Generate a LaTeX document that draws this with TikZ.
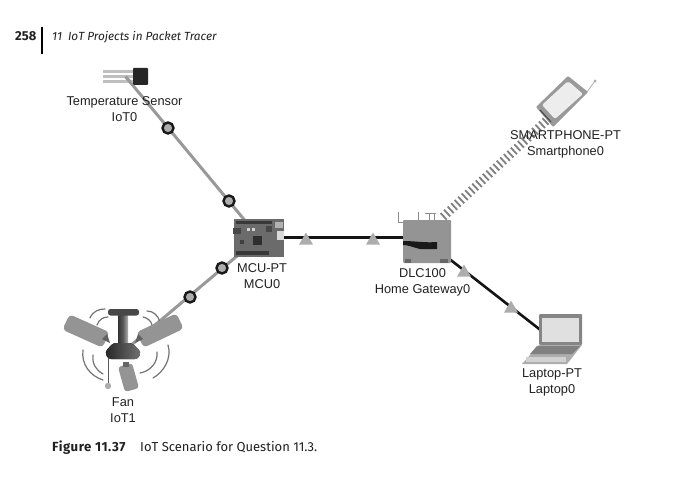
\documentclass[tikz,border=0pt]{standalone}
\usepackage{fontspec}
\setmainfont{Liberation Sans}
\newfontfamily\bookfont{Fira Sans}
\usetikzlibrary{shapes.geometric}
\definecolor{linkgray}{gray}{0.6}
\definecolor{tri}{gray}{0.68}
\definecolor{txt}{gray}{0.13}
\tikzset{
  x=1pt,y=-1pt,
  device/.style={minimum width=#1,inner sep=0pt,outer sep=0pt},
  lbl/.style={align=center,text=txt,inner sep=0pt,font=\fontsize{12.8}{15.6}\selectfont},
  iotlink/.style={draw=linkgray,line width=3pt},
  cable/.style={draw=black!92,line width=2.6pt},
  wifi/.style={draw=black!50,line width=9pt,dash pattern=on 1.8pt off 3pt},
  bead/.style={circle,draw=black!90,fill=black!32,line width=2.4pt,minimum size=11pt,inner sep=0pt},
  flag/.style={regular polygon,regular polygon sides=3,fill=tri,minimum size=16pt,inner sep=0pt},
  wave/.style={draw=black!55,line width=1.2pt,line cap=round},
  blade/.style={fill=black!42,rounded corners=4pt},
}
\begin{document}
\begin{tikzpicture}
\useasboundingbox (0,0) rectangle (700,486);
\fill[white] (0,0) rectangle (700,486);
% device places
\node[device=45pt,minimum height=17pt] (sensor) at (125.5,76.5) {};
\node[device=50pt,minimum height=38pt] (mcu) at (259,237.5) {};
\node[device=120pt,minimum height=84pt] (fan) at (123,352) {};
\node[device=48pt,minimum height=43pt] (gateway) at (427,241.5) {};
\node[device=60pt,minimum height=50pt] (laptop) at (552,339) {};
\node[device=50pt,minimum height=50pt] (phone) at (566,101) {};
\coordinate (wifiA) at (443,217);
\coordinate (wifiB) at (547,120);
% connectors
\draw[wifi] (wifiA) -- (wifiB);
\draw[iotlink] (sensor.center) -- (mcu.center);
\draw[iotlink] (mcu.center) -- (fan.center);
\draw[cable] (mcu.center) -- (mcu.center -| gateway.center);
\draw[cable] (gateway.center) -- (laptop.center);
% temperature sensor
\foreach \yy in {71.5,76.5,81.5}
  \draw[black!25,line width=2.2pt] (103,\yy) -- (134,\yy);
\draw[linkgray,line width=3pt] (125.5,76.5) -- (131,83);
\fill[black!85,rounded corners=1pt] (133,68) rectangle (148,85);
% MCU board
\fill[black!58] (234,219) rectangle (284,257);
\fill[black!78] (236,221) rectangle (272,224);
\fill[black!78] (236,251) rectangle (269,255);
\fill[black!72] (233,228) rectangle (241,234);
\fill[black!18] (247,228) rectangle (250,231);
\fill[black!18] (252,228) rectangle (255,231);
\fill[black!82] (253,236) rectangle (262,245);
\fill[black!72] (266,226) rectangle (272,232);
\fill[black!75] (240,240) rectangle (244,244);
\fill[black!30] (275,222) rectangle (283,228);
\fill[black!15] (277,231) rectangle (284,240);
% gateway
\draw[black!45,line width=1pt] (398,222) -- (398,212);
\draw[black!45,line width=1pt] (398,222) -- (403,222);
\draw[black!45,line width=1pt] (418,220) -- (418,212);
\draw[black!45,line width=1pt] (429,220) -- (429,213) (425,213) -- (436,213);
\draw[black!45,line width=1pt] (434,220) -- (434,214);
\fill[black!42,rounded corners=1pt] (403,220) rectangle (451,263);
\fill[black!90] (403,241) .. controls (415,241) and (425,243) .. (437,242) -- (437,249) -- (420,249) .. controls (412,247) and (408,245) .. (403,245) -- cycle;
\fill[black!60] (405,259) rectangle (411,263);
\fill[black!60] (440,259) rectangle (448,263);
% phone
\draw[black!30,line width=0.8pt] (587,92) -- (595,81);
\fill[black!35] (595,81) circle (1.5pt);
\fill[black!40,rounded corners=1pt] (568,76) -- (588,92) -- (553,127) -- (536,107) -- cycle;
\fill[black!7,rounded corners=2pt] (568,81) -- (583,94) -- (555,119) -- (542,105) -- cycle;
\draw[black!70,line width=1.2pt] (540,110) -- (551,122);
% laptop
\fill[black!48,rounded corners=1pt] (539,314) rectangle (582,345);
\fill[black!12] (542,318) rectangle (579,342);
\fill[black!32] (539,345) -- (582,345) -- (567,364) -- (522,364) -- cycle;
\fill[black!50] (537,346) -- (580,346) -- (572,354) -- (530,354) -- cycle;
\fill[black!18] (526,357) rectangle (566,362);
% fan
\foreach \aa/\bb/\cc/\dd/\ee/\ff/\gg/\hh in {
  90/318/93/311/99/309/105/309,
  97/325/99/319/104/317/108/317,
  147/311/153/311/158/315/160/322,
  143/317/148/318/151/321/152/325,
  83/350/81/364/90/376/103/380,
  93/355/92/364/96/370/103/374,
  168/345/172/358/164/372/153/378,
  157/352/158/362/151/371/140/373}
  \draw[wave] (\aa,\bb) .. controls (\cc,\dd) and (\ee,\ff) .. (\gg,\hh);
\fill[blade] (69.6,314.3) -- (62.4,329.7) -- (102.4,347.7) -- (109.6,332.3) -- cycle;
\fill[blade] (136.4,332.3) -- (143.6,347.7) -- (183.6,328.7) -- (176.4,313.3) -- cycle;
\fill[blade,rounded corners=3pt] (118,367) -- (125,392) -- (139,388) -- (132,363) -- cycle;
\fill[black!62] (102,339) -- (107,334) -- (110,343) -- cycle;
\fill[black!62] (143,339) -- (138,334) -- (135,343) -- cycle;
\fill[left color=black!80,right color=black!30,middle color=black!65] (118,313) rectangle (128,345);
\fill[black!72,rounded corners=2.5pt] (108,309) rectangle (139,315.5);
\fill[left color=black!85,right color=black!55,rounded corners=3pt] (113,343) -- (132,343) -- (141,352) -- (138,359) -- (108,359) -- (105,352) -- cycle;
\fill[black!60] (123,362) rectangle (129,367);
\draw[black!65,line width=1pt] (108,358) -- (108,385);
\fill[black!32] (108,386) circle (3.2pt);
% beads and flags
\node[bead] (b1) at (168,128) {};
\node[bead] (b2) at (229,201) {};
\node[bead] (b3) at (222,268) {};
\node[bead] (b4) at (190,297) {};
\node[flag] (t1) at (306,240.5) {};
\node[flag] (t2) at (373,240.5) {};
\node[flag] (t3) at (464,272.5) {};
\node[flag] (t4) at (511,308.5) {};
% labels
\node[lbl] (lsensor) at (124.5,108.8) {Temperature Sensor\\IoT0};
\node[lbl] (lmcu) at (262,276) {MCU-PT\\MCU0};
\node[lbl] (lfan) at (123,410) {Fan\\IoT1};
\node[lbl] (lgate) at (422.5,282.5) {DLC100\\Home Gateway0};
\node[lbl] (lphone) at (565.5,144.5) {SMARTPHONE-PT\\Smartphone0};
\node[lbl] (llap) at (552,382.5) {Laptop-PT\\Laptop0};
% page text
\node[anchor=base west,inner sep=0pt,text=txt,font=\bookfont\bfseries\fontsize{13}{15}\selectfont] (pg) at (15,41) {258};
\coordinate (barA) at (42,27);
\coordinate (barB) at (42,54);
\draw[black,line width=1.4pt] (barA) -- (barB);
\node[anchor=base west,inner sep=0pt,text=txt,font=\bookfont\itshape\fontsize{11.8}{14}\selectfont] (hd) at (52,41) {11\hspace{0.5em}IoT Projects in Packet Tracer};
\node[anchor=base west,inner sep=0pt,text=txt,font=\bookfont\bfseries\fontsize{13.2}{14}\selectfont\addfontfeature{LetterSpace=4}] (fig) at (52,451) {Figure 11.37};
\node[anchor=base west,inner sep=0pt,text=txt,font=\bookfont\fontsize{13}{14}\selectfont] (cap) at (140,451) {IoT Scenario for Question 11.3.};
\end{tikzpicture}
\end{document}
